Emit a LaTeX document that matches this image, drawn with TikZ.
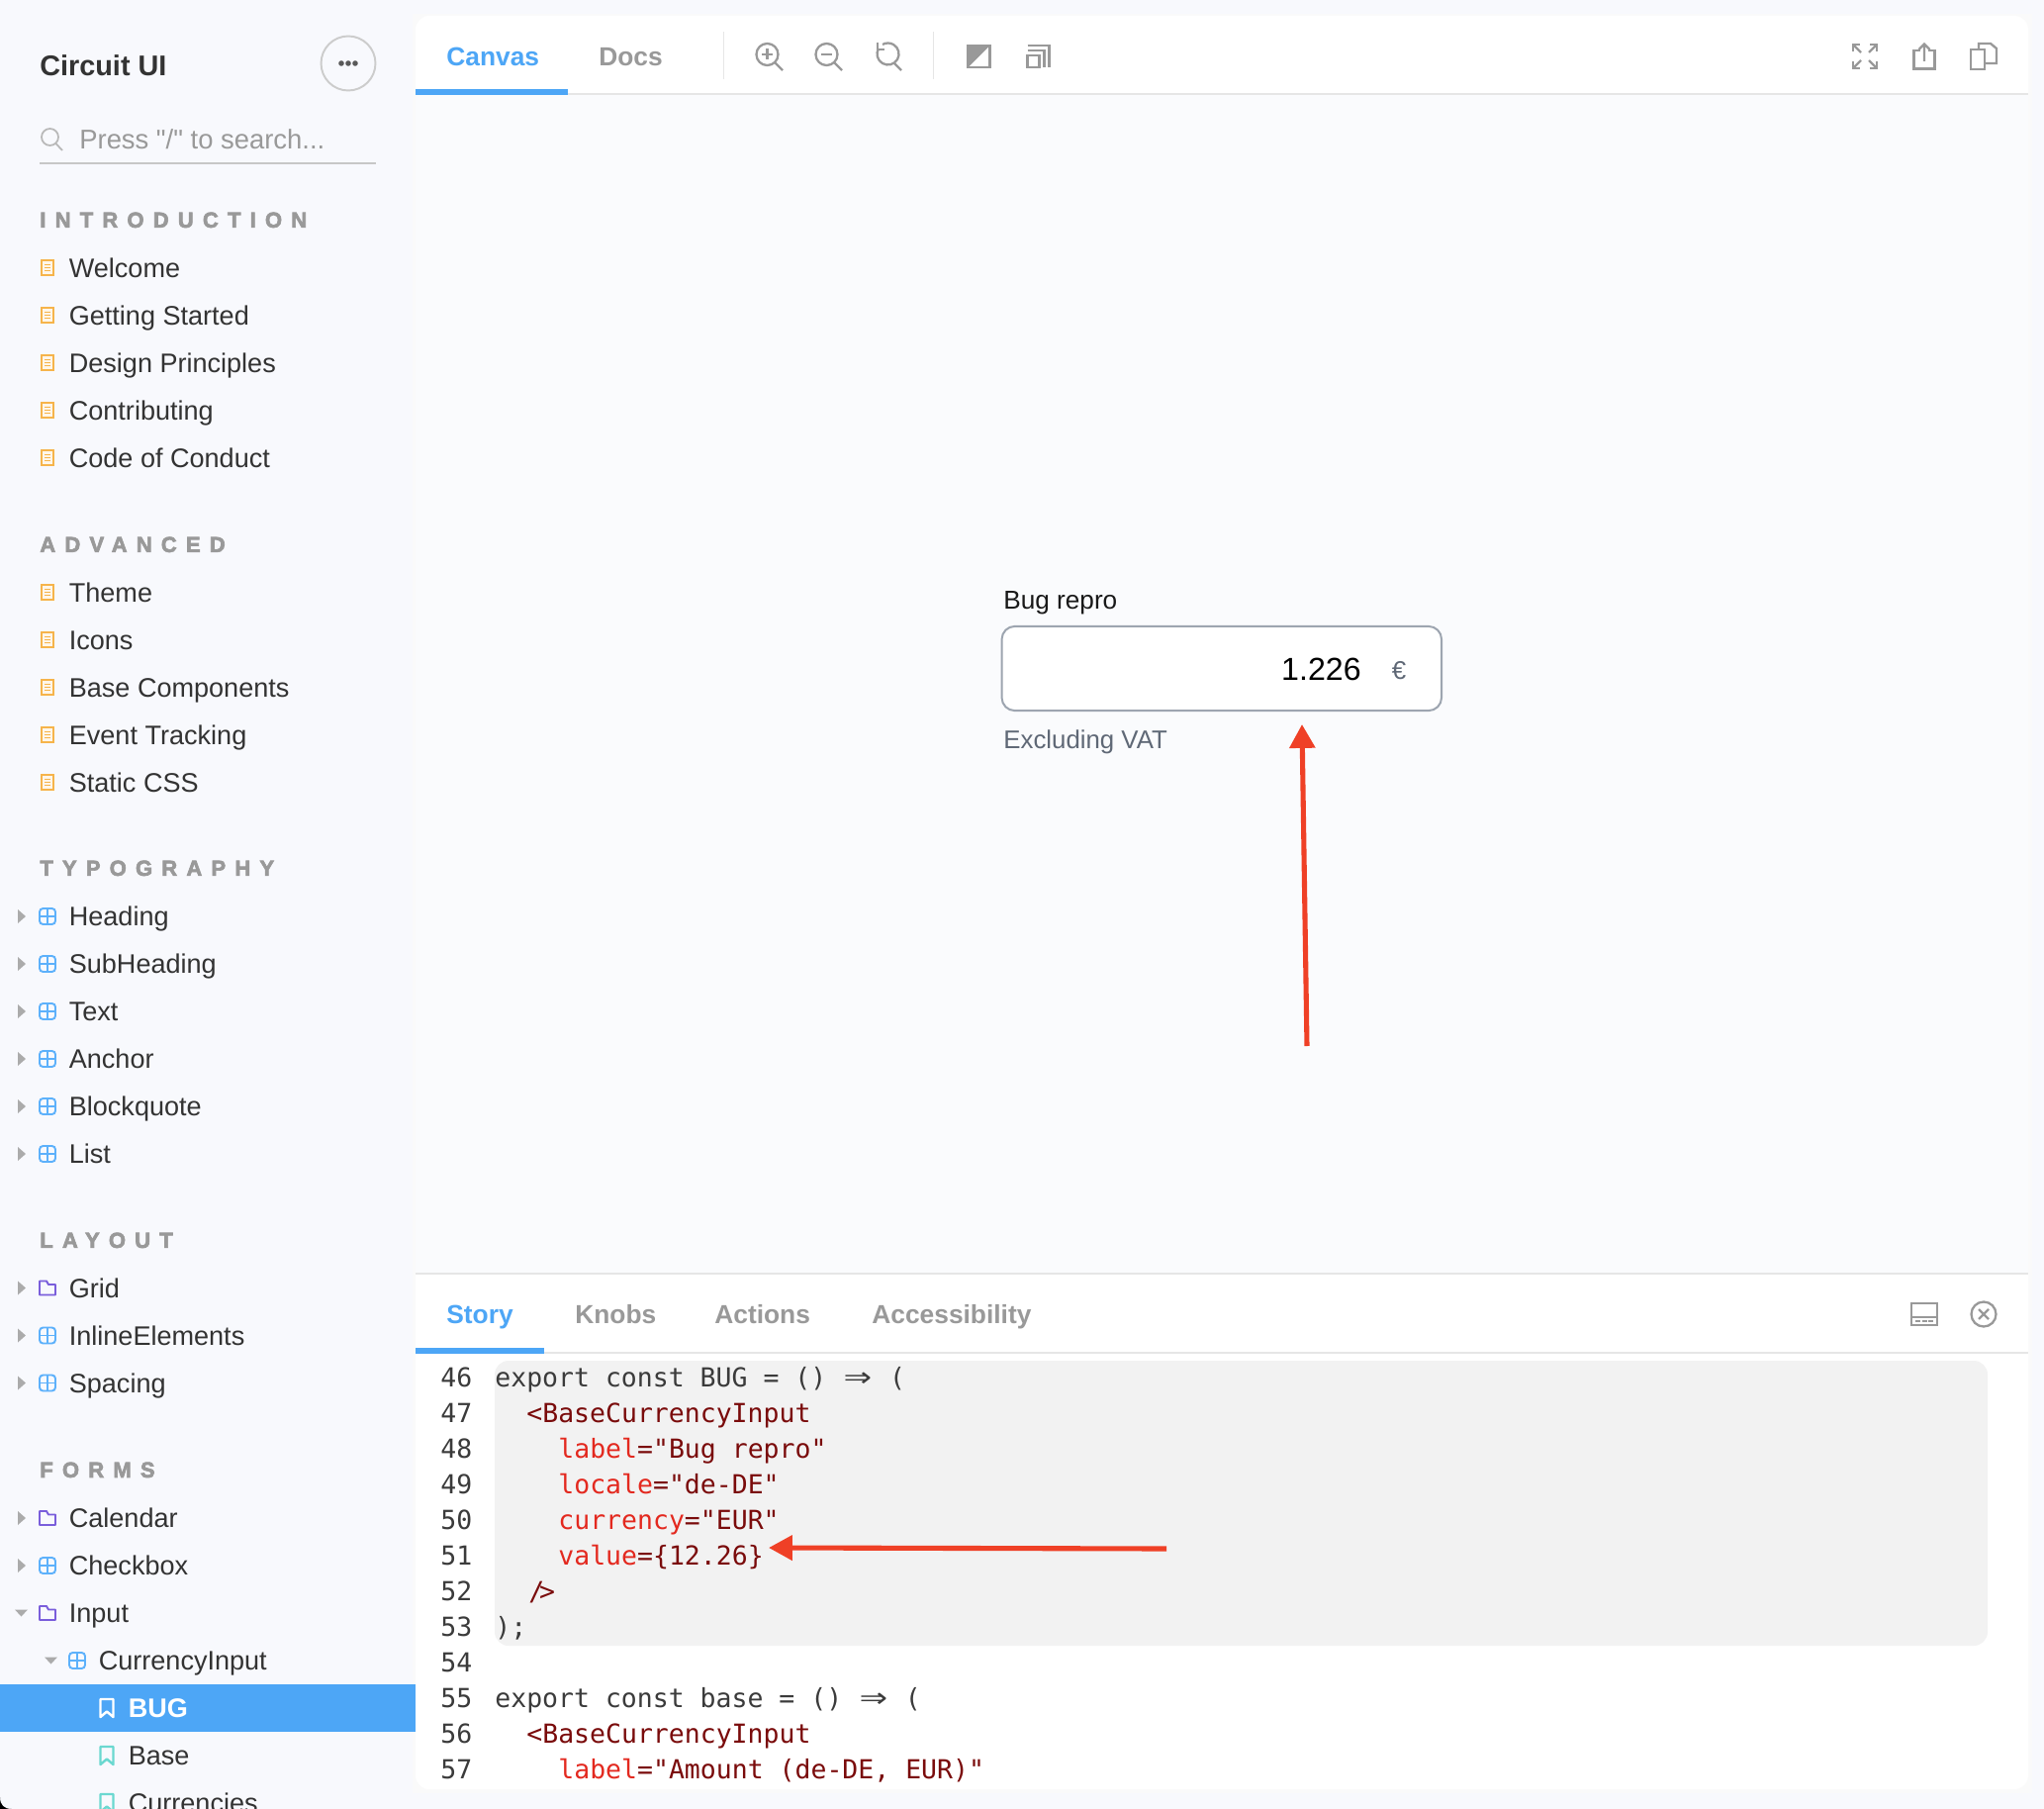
\documentclass[tikz,border=0pt]{standalone}
\usepackage{fontspec}
\usepackage{graphicx}
\setmainfont{Liberation Sans}
\newfontfamily\searchfont{Liberation Sans}
\newfontfamily\headfont[LetterSpace=42,FakeBold=3]{Liberation Sans Bold}
\newfontfamily\codefont{DejaVu Sans Mono}
\usepackage{xcolor}
\usetikzlibrary{arrows.meta, positioning}

\definecolor{sidebg}{HTML}{F8F9FD}
\definecolor{canvasbg}{HTML}{FAFBFD}
\definecolor{tabblue}{HTML}{4DA6F6}
\definecolor{tabgrey}{HTML}{999999}
\definecolor{linegrey}{HTML}{E6E6E6}
\definecolor{itemdark}{HTML}{333333}
\definecolor{docorange}{HTML}{F6B44B}
\definecolor{gridblue}{HTML}{5DB1FB}
\definecolor{folderpurple}{HTML}{7A5EDB}
\definecolor{marker}{HTML}{6BD8D0}
\definecolor{caretgrey}{HTML}{ABABAB}
\definecolor{codebg}{HTML}{F2F2F2}
\definecolor{codedark}{HTML}{3B3B3B}
\definecolor{tagred}{HTML}{7A0B0B}
\definecolor{attrred}{HTML}{E3291F}
\definecolor{bugred}{HTML}{EF4026}
\definecolor{boxgrey}{HTML}{9DA5B0}
\definecolor{hintgrey}{HTML}{5F6876}

\newcommand{\attr}[1]{\textcolor{attrred}{#1}}
\newcommand{\fatarrow}{\makebox[18.1pt]{\raisebox{-.4pt}{\scalebox{1.75}[1.35]{⇒}}}}

\tikzset{
  navitem/.style={anchor=west, inner sep=0pt, text=itemdark, font=\fontsize{15.4pt}{18pt}\selectfont, text height=11pt, text depth=0pt},
  navhead/.style={anchor=west, inner sep=0pt, text=tabgrey, font=\fontsize{12.5pt}{15pt}\headfont, text height=9pt, text depth=0pt},
  tablabel/.style={anchor=west, inner sep=0pt, text=tabgrey, font=\fontsize{15pt}{18pt}\selectfont\bfseries, text height=10.7pt, text depth=0pt},
  codeline/.style={anchor=west, inner sep=0pt, text=codedark, font=\fontsize{15.08pt}{18pt}\codefont, text height=11pt, text depth=0pt},
  formtext/.style={anchor=west, inner sep=0pt, font=\fontsize{14.7pt}{18pt}\selectfont, text height=10.5pt, text depth=0pt},
  toolicon/.style={draw=tabgrey, line width=1.3pt},
  pics/docicon/.style={code={
    \draw[docorange, line width=.9pt, fill=docorange!12] (-6,-7.5) rectangle (6,7.5);
    \foreach \l in {-3,0,3} \draw[docorange, line width=.6pt] (-3,\l) -- (3,\l);
  }},
  pics/gridicon/.style={code={
    \draw[gridblue, line width=1.1pt, rounded corners=2pt] (-8,-8) rectangle (8,8);
    \draw[gridblue, line width=.9pt] (0,-8) -- (0,8) (-8,0) -- (8,0);
  }},
  pics/foldericon/.style={code={
    \draw[folderpurple, line width=1.1pt, line join=round] (-8,7) -- (-8,-7) -- (-1,-7) -- (1,-3.5) -- (8,-3.5) -- (8,7) -- cycle;
  }},
  pics/markicon/.style={code={
    \draw[#1, line width=1.4pt, line join=round] (-6.5,-9) -- (6.5,-9) -- (6.5,9) -- (0,3.5) -- (-6.5,9) -- cycle;
  }},
  pics/closedcaret/.style={code={
    \fill[caretgrey] (-4,-7) -- (4,0) -- (-4,7) -- cycle;
  }},
  pics/opencaret/.style={code={
    \fill[caretgrey] (-6.5,-3.5) -- (6.5,-3.5) -- (0,3.5) -- cycle;
  }},
  pics/zoomicon/.style={code={
    \draw[toolicon] (-1.5,-2) circle (11) (6.5,6.5) -- (14,14);
    \draw[toolicon] (-7,-2) -- (4,-2);
    \ifnum#1=1 \draw[toolicon] (-1.5,-7.5) -- (-1.5,3.5); \fi
  }},
  pics/reseticon/.style={code={
    \draw[toolicon] (-9,-8) arc[start angle=210, end angle=-120, radius=11];
    \draw[toolicon] (6.5,6.5) -- (14,14);
    \draw[toolicon] (-10,-14) -- (-10,-7) -- (-3,-7);
  }},
  pics/halficon/.style={code={
    \draw[toolicon] (-11,-11) rectangle (11,11);
    \fill[tabgrey] (-11,-11) -- (11,-11) -- (-11,11) -- cycle;
  }},
  pics/stackicon/.style={code={
    \draw[toolicon] (-11,-1) rectangle (1,11);
    \draw[toolicon] (-11,-6) -- (6,-6) -- (6,11);
    \draw[toolicon] (-11,-11) -- (11,-11) -- (11,11);
  }},
  pics/fullicon/.style={code={
    \draw[toolicon] (-12,-12) -- (-4,-4) (12,-12) -- (4,-4) (-12,12) -- (-4,4) (12,12) -- (4,4);
    \draw[toolicon] (-12,-5) -- (-12,-12) -- (-5,-12) (5,-12) -- (12,-12) -- (12,-5);
    \draw[toolicon] (-12,5) -- (-12,12) -- (-5,12) (5,12) -- (12,12) -- (12,5);
  }},
  pics/shareicon/.style={code={
    \draw[toolicon] (-4,-6) -- (-10.5,-6) -- (-10.5,12.5) -- (10.5,12.5) -- (10.5,-6) -- (4,-6);
    \draw[toolicon] (0,5) -- (0,-12) (-5.5,-7) -- (0,-12.5) -- (5.5,-7);
  }},
  pics/copyicon/.style={code={
    \draw[toolicon] (-13,-7) -- (-4,-7) -- (1,-7) -- (1,13) -- (-13,13) -- cycle;
    \draw[toolicon] (-5,-7) -- (-5,-13) -- (7,-13) -- (13,-8) -- (13,7) -- (1,7);
  }},
  pics/paneicon/.style={code={
    \draw[toolicon] (-13,-11) rectangle (13,11);
    \draw[toolicon] (-13,3) -- (13,3);
    \draw[tabgrey, line width=1pt] (-9,7) -- (-4,7) (-2.5,7) -- (2.5,7) (4,7) -- (9,7);
  }},
  pics/closeicon/.style={code={
    \draw[toolicon] (0,0) circle (12.5);
    \draw[toolicon] (-5,-5) -- (5,5) (-5,5) -- (5,-5);
  }}
}

\begin{document}
\begin{tikzpicture}[>=stealth, x=0.02cm, y=-0.02cm]

  \useasboundingbox (0,0) rectangle (2066,1828);
  \fill[sidebg] (0,0) rectangle (2066,1828);
  \fill[black] (0,1816) .. controls (0,1824) and (4,1828) .. (12,1828) -- (0,1828) -- cycle;

  % main panel
  \fill[black!2] (417,14) rectangle (2054,1812);
  \fill[white, rounded corners=8] (420,16) rectangle (2050,1808);
  \fill[canvasbg] (420,96) rectangle (2050,1286);
  \fill[linegrey] (420,94) rectangle (2050,96);
  \fill[tabblue] (420,90) rectangle (574,96);
  \node[tablabel, text=tabblue] (canvas) at (451,57) {Canvas};
  \node[tablabel] (docs) at (605,57) {Docs};
  \fill[linegrey] (730.5,32) rectangle (732,80);
  \fill[linegrey] (942.5,32) rectangle (944,80);

  \pic at (777,57) {zoomicon=1};
  \pic at (837,57) {zoomicon=0};
  \pic at (897,57) {reseticon};
  \pic at (989.5,57) {halficon};
  \pic at (1049.5,57) {stackicon};
  \pic at (1885,57) {fullicon};
  \pic at (1945,57) {shareicon};
  \pic at (2005,57) {copyicon};

  % sidebar top
  \node[navitem, font=\fontsize{16.4pt}{18pt}\selectfont\bfseries] (brand) at (40,67) {Circuit UI};
  \node[circle, draw=black!20, line width=1.1pt, fill=sidebg, minimum size=31.3pt, inner sep=0pt] (menu) at (352,64) {};
  \foreach \d in {-7,0,7} \fill[black!65] (352+\d,64) circle (2.8);
  \draw[tabgrey!70, line width=1pt] (50.5,138.5) circle (8.5) (56.5,145) -- (63,152);
  \node[navitem, text=tabgrey, font=\fontsize{15.6pt}{18pt}\searchfont] (search) at (80,141) {Press "/" to search...};
  \coordinate (searchleft) at (40,165);
  \coordinate (searchright) at (380,165);
  \draw[black!22, line width=1.3pt] (searchleft) -- (searchright);

  % sidebar headings
  \foreach \n/\lab/\ypos in {intro/INTRODUCTION/222, advanced/ADVANCED/550, typo/TYPOGRAPHY/877, layout/LAYOUT/1253, forms/FORMS/1485}
    \node[navhead] (\n) at (40,\ypos) {\lab};

  % plain pages
  \foreach \n/\lab/\ypos in {welcome/Welcome/270.5, started/Getting Started/318.5, design/Design Principles/366.5, contrib/Contributing/414.5, conduct/Code of Conduct/462.5, theme/Theme/598.5, icons/Icons/646.5, basecomp/Base Components/694.5, tracking/Event Tracking/742.5, static/Static CSS/790.5} {
    \pic at (48,\ypos) {docicon};
    \node[navitem] (\n) at (69.5,\ypos) {\lab};
  }

  % closed components
  \foreach \n/\lab/\ypos in {heading/Heading/926, subheading/SubHeading/974, text/Text/1022, anchortext/Anchor/1070, quote/Blockquote/1118, list/List/1166, inline/InlineElements/1349.5, spacing/Spacing/1397.5, checkbox/Checkbox/1582} {
    \pic at (22,\ypos) {closedcaret};
    \pic at (48,\ypos) {gridicon};
    \node[navitem] (\n) at (69.5,\ypos) {\lab};
  }
  \foreach \n/\lab/\ypos in {grid/Grid/1301.5, calendar/Calendar/1534} {
    \pic at (22,\ypos) {closedcaret};
    \pic at (48,\ypos) {foldericon};
    \node[navitem] (\n) at (69.5,\ypos) {\lab};
  }

  % open entries
  \pic at (21.5,1630) {opencaret};
  \pic at (48,1630) {foldericon};
  \node[navitem] (input) at (69.5,1630) {Input};
  \pic at (51.5,1678) {opencaret};
  \pic at (78,1678) {gridicon};
  \node[navitem] (currency) at (99.5,1678) {CurrencyInput};
  \fill[tabblue] (0,1702) rectangle (420,1750);
  \pic at (108,1726) {markicon=white};
  \node[navitem, text=white, font=\fontsize{15.4pt}{18pt}\selectfont\bfseries] (bug) at (129.5,1726) {BUG};
  \pic at (108,1774) {markicon=marker};
  \node[navitem] (base) at (129.5,1774) {Base};
  \pic at (108,1822) {markicon=marker};
  \node[navitem] (currencies) at (129.5,1822) {Currencies};

  % story in the canvas
  \node[formtext, text=black!90, font=\fontsize{14.9pt}{18pt}\selectfont] (label) at (1014,606) {Bug repro};
  \node[draw=boxgrey, line width=1.14pt, fill=white, rounded corners=7.5pt, minimum width=253pt, minimum height=48.5pt, inner sep=0pt] (field) at (1234.8,675.5) {};
  \node[formtext, anchor=east, text=black, font=\fontsize{18.3pt}{20pt}\selectfont, text height=13pt] (amount) at (1376,676) {1.226};
  \node[formtext, text=hintgrey] (euro) at (1406.5,677) {€};
  \node[formtext, text=hintgrey] (hint) at (1014,747) {Excluding VAT};

  \coordinate (uptail) at (1321,1057);
  \coordinate (uptip) at (1316,732);
  \draw[-{Triangle[length=13.6pt, width=14.4pt]}, bugred, line width=2.9pt] (uptail) -- (uptip);

  % addon panel
  \fill[linegrey] (420,1286) rectangle (2050,1288);
  \fill[linegrey] (420,1366) rectangle (2050,1368);
  \fill[tabblue] (420,1362) rectangle (550,1368);
  \node[tablabel, text=tabblue] (story) at (451,1328) {Story};
  \node[tablabel] (knobs) at (581,1328) {Knobs};
  \node[tablabel] (actions) at (722,1328) {Actions};
  \node[tablabel] (access) at (881,1328) {Accessibility};
  \pic at (1945,1328) {paneicon};
  \pic at (2005,1328) {closeicon};

  % source
  \fill[codebg, rounded corners=8] (500,1375) rectangle (2009,1663);
  \foreach \n in {46,...,57}
    \node[codeline] (num\n) at (445,{1392.2+35.95*(\n-46)}) {\n};

  \node[codeline] (code46) at (500,1392) {export const BUG = () \fatarrow{} (};
  \node[codeline, text=tagred] (code47) at (532,1428) {<BaseCurrencyInput};
  \node[codeline, text=tagred] (code48) at (564,1464) {\attr{label}="Bug repro"};
  \node[codeline, text=tagred] (code49) at (564,1500) {\attr{locale}="de-DE"};
  \node[codeline, text=tagred] (code50) at (564,1536) {\attr{currency}="EUR"};
  \node[codeline, text=tagred] (code51) at (564,1572) {\attr{value}=\{12.26\}};
  \node[codeline, text=tagred] (code52) at (534,1608) {/\kern-3pt>};
  \node[codeline] (code53) at (500,1644) {);};
  \node[codeline] (code55) at (500,1716) {export const base = () \fatarrow{} (};
  \node[codeline, text=tagred] (code56) at (532,1752) {<BaseCurrencyInput};
  \node[codeline, text=tagred] (code57) at (564,1788) {\attr{label}="Amount (de-DE, EUR)"};

  \coordinate (lefttail) at (1179,1565);
  \coordinate (lefttip) at (777,1564);
  \draw[-{Triangle[length=13.6pt, width=14pt]}, bugred, line width=2.9pt] (lefttail) -- (lefttip);

\end{tikzpicture}
\end{document}
